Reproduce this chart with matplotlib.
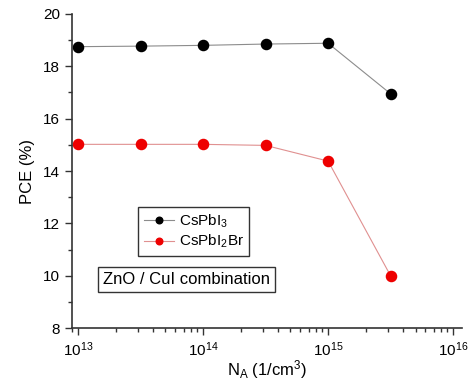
import numpy as np
import matplotlib
matplotlib.use("Agg")
import matplotlib.pyplot as plt
from matplotlib.ticker import LogLocator, MultipleLocator


# =========================
# DATA
# =========================

NA_VALUES = [1e13, 3.16e13, 1e14, 3.16e14, 1e15, 3.16e15]

PCE_CSPBI3 = [18.75, 18.77, 18.80, 18.85, 18.88, 16.95]
PCE_CSPBI2BR = [15.02, 15.02, 15.02, 14.98, 14.38, 10.00]

LABELS = [r"CsPbI$_3$", r"CsPbI$_2$Br"]


# =========================
# STYLE
# =========================

plt.rcParams["font.family"] = ["Liberation Sans", "DejaVu Sans"]
plt.rcParams["mathtext.fontset"] = "custom"
plt.rcParams["mathtext.rm"] = "Liberation Sans"
plt.rcParams["mathtext.it"] = "Liberation Sans:italic"
plt.rcParams["mathtext.default"] = "regular"


# =========================
# PLOT
# =========================

fig = plt.figure(figsize=(4.74, 3.87), dpi=100)
ax = fig.add_axes([0.152, 0.152, 0.823, 0.812])

ax.plot(
    NA_VALUES, PCE_CSPBI3,
    color="#8c8c8c", linewidth=0.8,
    marker="o", markersize=7.3,
    markerfacecolor="black", markeredgecolor="black",
    label=LABELS[0],
)
ax.plot(
    NA_VALUES, PCE_CSPBI2BR,
    color="#e09090", linewidth=0.8,
    marker="o", markersize=7.3,
    markerfacecolor="#ee0000", markeredgecolor="#ee0000",
    label=LABELS[1],
)

ax.set_xscale("log")
ax.set_xlim(10 ** 12.952, 10 ** 16.072)
ax.set_ylim(8, 20)

ax.xaxis.set_major_locator(LogLocator(base=10, numticks=10))
ax.xaxis.set_minor_locator(LogLocator(base=10, subs=np.arange(2, 10), numticks=10))
ax.yaxis.set_major_locator(MultipleLocator(2))
ax.yaxis.set_minor_locator(MultipleLocator(1))

ax.tick_params(axis="both", which="major", direction="out", length=5,
               width=1, labelsize=11, color="#333333")
ax.tick_params(axis="both", which="minor", direction="out", length=3,
               width=1, color="#333333")

for side in ["top", "right"]:
    ax.spines[side].set_visible(False)
for side in ["left", "bottom"]:
    ax.spines[side].set_linewidth(1.2)
    ax.spines[side].set_color("#333333")

ax.set_ylabel("PCE (%)", fontsize=12, labelpad=6)
ax.set_xlabel(r"N$_A$ (1/cm$^3$)", fontsize=12, labelpad=0)

legend = ax.legend(
    loc="upper left",
    bbox_to_anchor=(0.17, 0.385),
    frameon=True,
    fancybox=False,
    framealpha=1.0,
    fontsize=11,
    markerscale=0.65,
    handlelength=2.0,
    handletextpad=0.3,
    borderpad=0.35,
    labelspacing=0.2,
    borderaxespad=0.0,
)
legend.get_frame().set_edgecolor("#333333")
legend.get_frame().set_linewidth(1.0)

ax.text(
    0.08, 0.155, "ZnO / CuI combination",
    transform=ax.transAxes, fontsize=12, va="center", ha="left",
    bbox=dict(boxstyle="square,pad=0.3", facecolor="white",
              edgecolor="#333333", linewidth=1.0),
)

plt.savefig("out.png", dpi=100)
plt.close(fig)
